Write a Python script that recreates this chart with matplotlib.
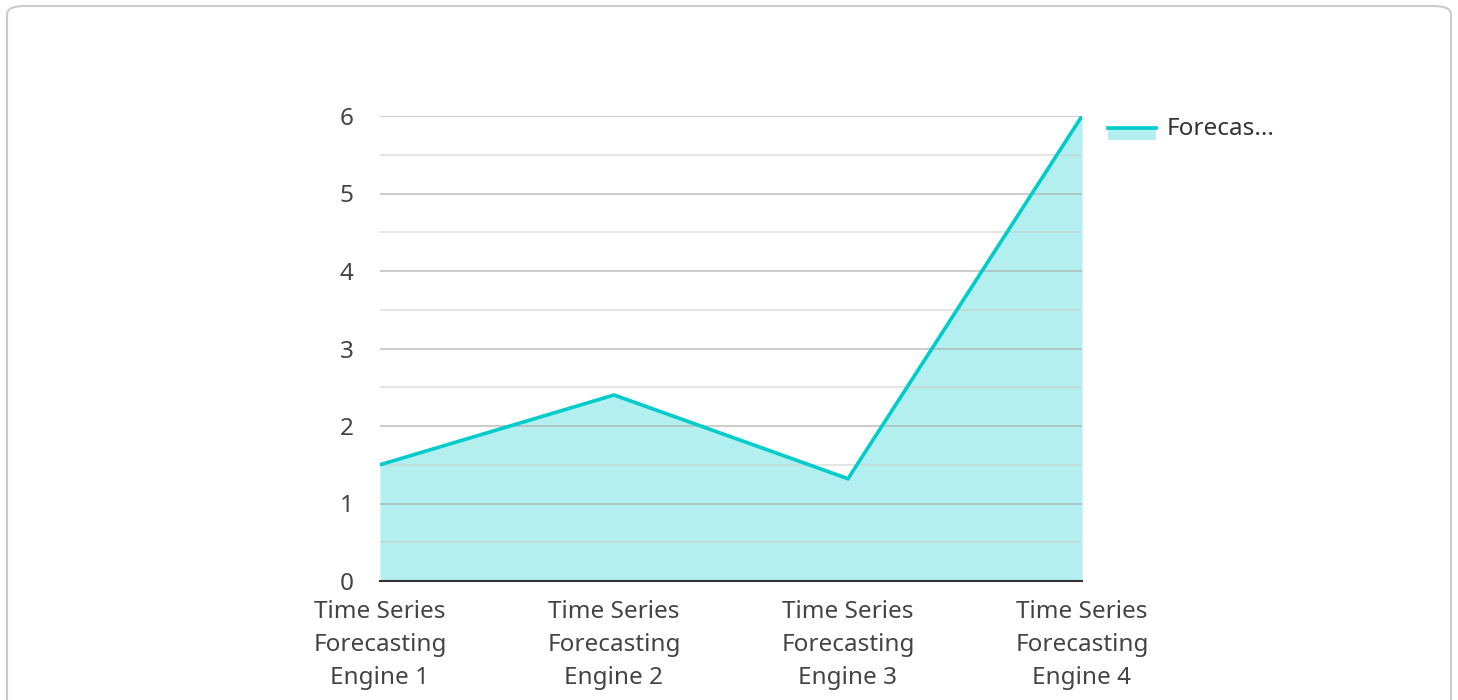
import matplotlib.pyplot as plt
from matplotlib.patches import FancyBboxPatch, Rectangle
from matplotlib.lines import Line2D
import numpy as np

plt.rcParams["font.family"] = ["Noto Sans", "DejaVu Sans"]

categories = [
    "Time Series\nForecasting\nEngine 1",
    "Time Series\nForecasting\nEngine 2",
    "Time Series\nForecasting\nEngine 3",
    "Time Series\nForecasting\nEngine 4",
]
values = [1.5, 2.4, 1.32, 6.0]
series_name = "Forecas..."
y_ticks = [0, 1, 2, 3, 4, 5, 6]

LINE = "#00cccc"
FILL = "#b2efee"
TXT = "#444444"
FS = 17.5

W, H = 1458, 700
fig = plt.figure(figsize=(W / 100, H / 100), dpi=100)

# card border
fig.patches.append(FancyBboxPatch((7 / W, -20 / H), 1444 / W, 714 / H,
                                  boxstyle="round,pad=0,rounding_size=0.012",
                                  transform=fig.transFigure, facecolor="white",
                                  edgecolor="#cccccc", linewidth=1.5, zorder=-1))

ax = fig.add_axes([380 / W, 1 - 581 / H, 702 / W, 465 / H])
ax.set_facecolor("none")
x = np.arange(len(categories))
ax.fill_between(x, values, 0, color=FILL, linewidth=0, zorder=2)
ax.plot(x, values, color=LINE, linewidth=2.6, zorder=3, solid_joinstyle="miter")

ax.set_xlim(0, len(categories) - 1)
ax.set_ylim(0, 6)
ax.set_yticks(y_ticks)
ax.set_yticks(np.arange(0.5, 6, 1), minor=True)
ax.grid(axis="y", which="major", color="#aaaaaa", linewidth=1.2, zorder=4, alpha=0.7)
ax.grid(axis="y", which="minor", color="#cccccc", linewidth=1.2, zorder=4, alpha=0.6)
ax.set_axisbelow(False)
for s in ("top", "right", "left"):
    ax.spines[s].set_visible(False)
ax.spines["bottom"].set_color("#333333")
ax.spines["bottom"].set_linewidth(1.5)
ax.spines["bottom"].set_zorder(5)
ax.set_xticks(x)
ax.set_xticklabels(categories, fontsize=FS, color=TXT, linespacing=1.5)
ax.tick_params(axis="x", length=0, pad=14)
ax.tick_params(axis="y", which="both", length=0, pad=19, labelsize=FS, labelcolor=TXT)

# legend
fig.patches.append(Rectangle((1108 / W, 1 - 140 / H), 48 / W, 12 / H,
                             transform=fig.transFigure, facecolor=FILL, edgecolor="none"))
fig.lines.append(Line2D([1108 / W, 1156 / W], [1 - 128 / H, 1 - 128 / H],
                        transform=fig.transFigure, color=LINE, linewidth=2.6))
fig.text(1167 / W, 1 - 129 / H, series_name, fontsize=FS, color="#333333",
         va="center", ha="left")

fig.savefig("out.png", dpi=100)
